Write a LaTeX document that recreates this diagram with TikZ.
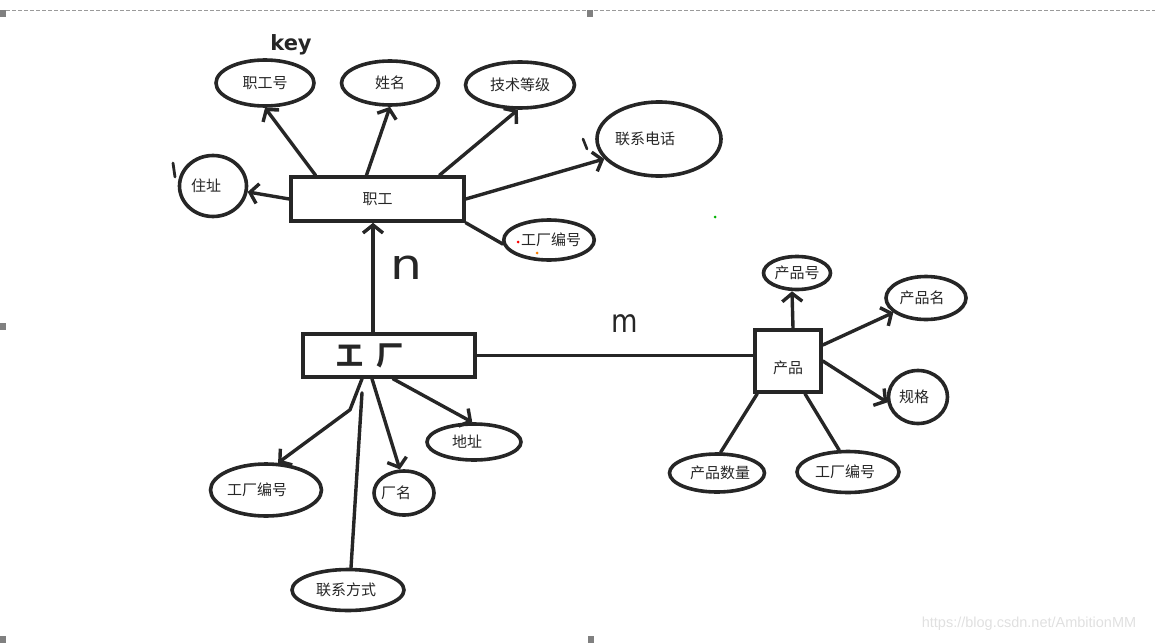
\documentclass[tikz,border=0pt]{standalone}
\usepackage{fontspec}
\usepackage{tikz}
\usetikzlibrary{shapes.geometric, arrows.meta, positioning}
\newfontfamily\cjk{Noto Sans CJK SC}
\newfontfamily\hand{DejaVu Sans}
\newfontfamily\wmark{Liberation Sans}
\definecolor{ink}{HTML}{262626}
\definecolor{handle}{HTML}{808080}
\tikzstyle{ln}=[ink,line width=3.4pt,line cap=round,line join=round]
\tikzstyle{hd}=[-{Straight Barb[length=8pt,width=20pt]}]
\tikzstyle{att}=[ellipse,draw=ink,line width=3.6pt,inner sep=0pt,text=ink,font=\cjk\fontsize{15}{17}\selectfont]
\tikzstyle{ent}=[rectangle,draw=ink,line width=3.6pt,inner sep=0pt,text=ink,font=\cjk\fontsize{15}{17}\selectfont]
\tikzstyle{mk}=[ink,inner sep=0pt,font=\hand]

\begin{document}
\begin{tikzpicture}[x=1pt,y=-1pt]
    \useasboundingbox (0,0) rectangle (1155,642);
    % frame of the canvas
    \draw[handle!80,line width=1pt,dash pattern=on 4pt off 2pt] (0,11) -- (1155,11);
    \foreach \p in {{0,10}, {587,10}, {0,323}, {0,636}, {588,636}}
        \fill[handle] (\p) rectangle ++(6,7);
    % entities
    \node[ent,minimum width=173pt,minimum height=44pt] (zg) at (377.5,199) {职工};
    \node[ent,minimum width=172pt,minimum height=43pt,font=\cjk\bfseries\fontsize{27}{30}\selectfont] (gc) at (389,355.5) {\hspace*{-38pt}工\hspace{13pt}厂};
    \node[ent,minimum width=66pt,minimum height=62pt] (cp) at (788,361) {\raisebox{-12pt}[0pt][0pt]{产品}};
    % attributes
    \foreach \p/\n/\w/\h/\dx/\s in {{265,83}/zgh/98/46/0/职工号, {390,83}/xm/97/44/0/姓名,
        {520,85}/jsdj/109/46/0/技术等级, {659,139}/lxdh/124/74/-28/联系电话,
        {213,186}/zz/67/61/-14/住址, {549,240}/gcbh1/74/40/4/工厂编号,
        {797,273}/cph/67/33/0/产品号, {926,298}/cpm/80/43/-8/产品名,
        {918,397}/gg/59/53/-8/规格, {717,473}/cpsl/95/38/6/产品数量,
        {848,472}/gcbh3/102/41/-6/工厂编号, {266,490}/gcbh2/111/52/-18/工厂编号,
        {404,493}/cm/60/44/-16/厂名, {474,442}/dz/94/36/-14/地址,
        {348,590}/lxfs/112/41/-4/联系方式}
        \node[att,minimum width=\w pt,minimum height=\h pt] (\n) at (\p) {\hspace*{\dx pt}\s};
    % connectors of 职工
    \draw[ln,hd] ([xshift=-62pt]zg.north) -- (zgh.south);
    \draw[ln,hd] ([xshift=-11pt]zg.north) -- (xm.south);
    \draw[ln,hd] ([xshift=62pt]zg.north) -- (jsdj.265);
    \draw[ln,hd] (zg.east) -- (lxdh.200);
    \draw[ln,hd] (zg.west) -- (zz);
    \draw[ln] (zg.south east) -- (gcbh1.185);
    % connectors of 工厂
    \draw[ln,hd] ([xshift=-16pt]gc.north) -- ([xshift=-16pt]gc.north |- zg.south);
    \draw[ln] (gc.east) -- (gc.east -| cp.west);
    \draw[ln,hd] ([xshift=-27pt]gc.south) -- ++(-12,31) -- (gcbh2.66);
    \draw[ln] ([xshift=-27pt,yshift=-14pt]gc.south) -- ([xshift=3pt]lxfs.north);
    \draw[ln,hd] ([xshift=-17pt]gc.south) -- (cm.100);
    \draw[ln,hd] ([xshift=4pt]gc.south) -- (dz.95);
    % connectors of 产品
    \draw[ln,hd] ([xshift=5pt]cp.north) -- ([xshift=-5pt]cph.south);
    \draw[ln,hd] ([yshift=16pt]cp.east) -- (cpm.204);
    \draw[ln,hd] (cp.east) -- (gg.190);
    \draw[ln] ([xshift=4pt]cp.south west) -- (cpsl.80);
    \draw[ln] ([xshift=17pt]cp.south) -- (gcbh3.112);
    % handwriting
    \node[mk,font=\hand\bfseries\fontsize{21}{24}\selectfont] (key) at (291,45) {key};
    \node[mk,font=\hand\fontsize{42}{44}\selectfont,xscale=1.2] (n) at (406,268) {n};
    \node[mk,font=\hand\fontsize{32}{34}\selectfont,xscale=0.85] (m) at (625,324) {m};
    \draw[ln,line width=2.8pt] (173,163) -- (175,177);
    \draw[ln,line width=2.6pt] (583,139) -- (587,149);
    \fill[green!70!black] (715,217) circle (1.5pt);
    \fill[red] (518,242) circle (1.5pt);
    \fill[orange] (537,253) circle (1.5pt);
    % watermark
    \node[inner sep=0pt,text=black!12,font=\wmark\fontsize{14.5}{16}\selectfont] (wm) at (1029,624) {https://blog.csdn.net/AmbitionMM};
\end{tikzpicture}
\end{document}
